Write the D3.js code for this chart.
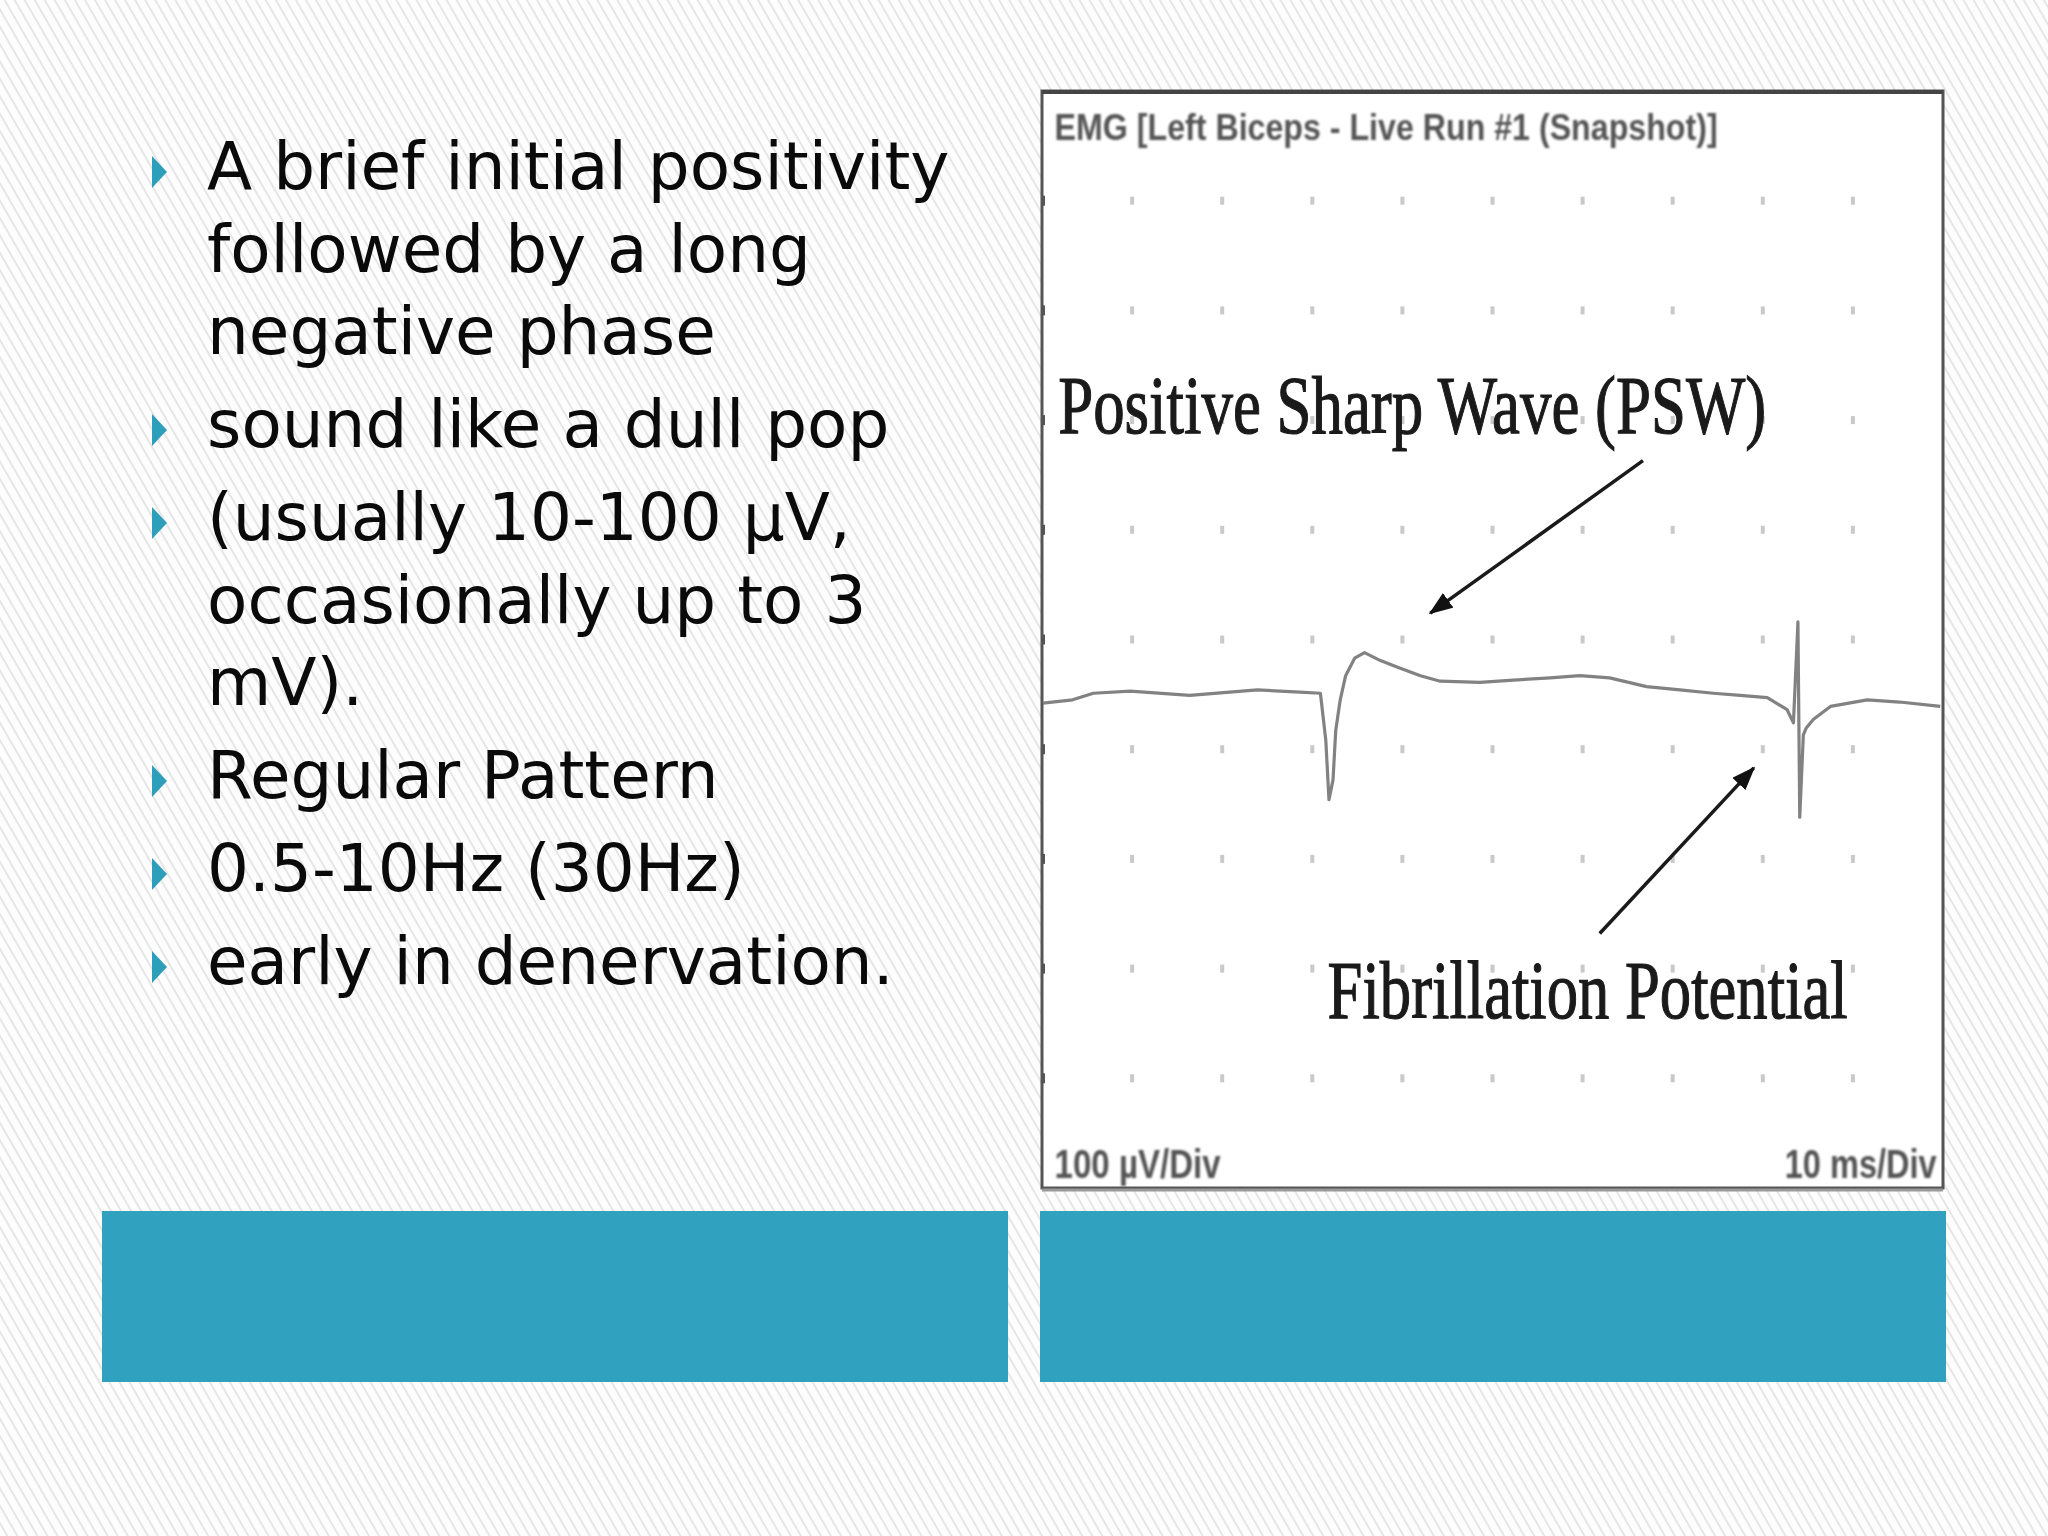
<!DOCTYPE html>
<html>
<head>
<meta charset="utf-8">
<script src="https://cdn.jsdelivr.net/npm/d3@7"></script>
<style>
  body { margin: 0; background: #fdfdfd; }
</style>
</head>
<body>
<script>

// slide text, one array per bullet
const bulletParagraphs = [
  ['A brief initial positivity', 'followed by a long', 'negative phase'],
  ['sound like a dull pop'],
  ['(usually 10-100 µV,', 'occasionally up to 3', 'mV).'],
  ['Regular Pattern'],
  ['0.5-10Hz (30Hz)'],
  ['early in denervation.']
];

// EMG trace (ms, µV)
const traceMs = [0.1, 3.4, 5.7, 9.8, 16.4, 23.9, 28.6, 30.9, 31.5, 31.85, 32.3, 32.6, 33.1, 33.7, 34.7,
  35.8, 37.5, 39.4, 42.0, 44.2, 48.6, 52.3, 56.4, 59.7, 63.0, 67.1, 70.8, 74.5, 77.5, 80.5, 82.7, 83.4,
  83.9, 84.1, 84.5, 84.8, 85.6, 87.5, 91.6, 95.2, 99.7];
const traceUv = [-58, -55, -49, -47, -51, -46, -48, -49, -92, -146, -128, -83, -55, -33, -17,
  -12, -19, -25, -33, -38, -39, -37, -35, -33, -35, -43, -46, -49, -51, -53, -64, -76,
  16, -162, -87, -81, -73, -61, -55, -57, -61];

const timeTicks = d3.range(0, 101, 10);      // 10 ms/Div
const voltTicks = d3.range(-500, 501, 100);  // 100 µV/Div

const chartTitle = 'EMG [Left Biceps - Live Run #1 (Snapshot)]';
const voltLabel = '100 µV/Div';
const timeLabel = '10 ms/Div';

const annotationLabels = ['Positive Sharp Wave (PSW)', 'Fibrillation Potential'];
const annotationLabelAt = [[1.8, 188], [31.7, -345]];          // ms, µV
const annotationArrowFrom = [[66.7, 163], [61.9, -268]];
const annotationArrowTo = [[43.1, 24], [79.0, -117]];

const WIDTH = 2048,
      HEIGHT = 1536;

const FRAME = { left: 1042, top: 91, right: 1943, bottom: 1188 };

const svg = d3.select('body').append('svg')
  .attr('width', WIDTH)
  .attr('height', HEIGHT);

const defs = svg.append('defs');

const hatch = defs.append('pattern')
  .attr('id', 'hatch')
  .attr('patternUnits', 'userSpaceOnUse')
  .attr('width', 8.7)
  .attr('height', 20)
  .attr('patternTransform', 'rotate(-30)');
hatch.append('rect').attr('width', 8.7).attr('height', 20).attr('fill', '#fdfdfd');
hatch.append('line')
  .attr('x1', 4).attr('y1', 0).attr('x2', 4).attr('y2', 20)
  .attr('stroke', '#e1e1e1').attr('stroke-width', 1.6);

defs.append('marker')
  .attr('id', 'arrow')
  .attr('markerUnits', 'userSpaceOnUse')
  .attr('viewBox', '0 -9 24 18')
  .attr('refX', 22).attr('refY', 0)
  .attr('markerWidth', 24).attr('markerHeight', 18)
  .attr('orient', 'auto')
  .append('path')
    .attr('d', 'M0,-9L24,0L0,9Z')
    .attr('fill', '#111');

defs.append('filter').attr('id', 'soft')
  .append('feGaussianBlur').attr('stdDeviation', 0.9);

svg.append('rect')
  .attr('width', WIDTH).attr('height', HEIGHT)
  .attr('fill', 'url(#hatch)');

// bullets
const LINE_H = 82.5, PARA_GAP = 10.5, FIRST_BASE = 189;
let lines = [];
let base = FIRST_BASE;
bulletParagraphs.forEach((para) => {
  para.forEach((txt, i) => {
    lines.push({ text: txt, y: base, first: i === 0 });
    base += LINE_H;
  });
  base += PARA_GAP;
});

const textG = svg.append('g');

textG.selectAll('.bullet')
  .data(lines.filter((d) => d.first))
  .enter().append('path')
    .attr('class', 'bullet')
    .attr('transform', (d) => `translate(152, ${d.y})`)
    .attr('d', 'M0,-33L15,-17L0,-1Z')
    .attr('fill', '#2e9fbb');

textG.selectAll('.line')
  .data(lines)
  .enter().append('text')
    .attr('class', 'line')
    .attr('x', 207)
    .attr('y', (d) => d.y)
    .style('font-family', '"DejaVu Sans", sans-serif')
    .style('font-size', '66px')
    .style('fill', '#0a0a0a')
    .text((d) => d.text);

// footer boxes
svg.selectAll('.box')
  .data([[102, 1008], [1040, 1946]])
  .enter().append('rect')
    .attr('class', 'box')
    .attr('x', (d) => d[0])
    .attr('y', 1211)
    .attr('width', (d) => d[1] - d[0])
    .attr('height', 171)
    .attr('fill', '#30a2c0');

// EMG snapshot
const x = d3.scaleLinear().domain([0, 100]).range([FRAME.left, FRAME.right]);
const y = d3.scaleLinear().domain([-500, 500]).range([FRAME.bottom, FRAME.top]);

const chart = svg.append('g');

chart.append('rect')
  .attr('x', FRAME.left).attr('y', FRAME.top)
  .attr('width', FRAME.right - FRAME.left)
  .attr('height', FRAME.bottom - FRAME.top)
  .attr('fill', '#fff');

const innerT = timeTicks.slice(1, -1),
      innerV = voltTicks.slice(1, -1);

chart.selectAll('.dot')
  .data(d3.cross(innerT, innerV))
  .enter().append('rect')
    .attr('class', 'dot')
    .attr('x', (d) => x(d[0]) - 2)
    .attr('y', (d) => y(d[1]) - 4)
    .attr('width', 4).attr('height', 8)
    .attr('fill', '#c9c9c9');

chart.selectAll('.edge-tick')
  .data(innerV)
  .enter().append('rect')
    .attr('class', 'edge-tick')
    .attr('x', FRAME.left - 1)
    .attr('y', (d) => y(d) - 5)
    .attr('width', 4).attr('height', 10)
    .attr('fill', '#555');

chart.append('rect')
  .attr('x', FRAME.left).attr('y', FRAME.top)
  .attr('width', FRAME.right - FRAME.left)
  .attr('height', FRAME.bottom - FRAME.top)
  .attr('fill', 'none')
  .attr('stroke', '#555')
  .attr('stroke-width', 3);

chart.append('line')
  .attr('x1', FRAME.left).attr('x2', FRAME.right)
  .attr('y1', FRAME.top + 1).attr('y2', FRAME.top + 1)
  .attr('stroke', '#444').attr('stroke-width', 4);

chart.append('line')
  .attr('x1', FRAME.left).attr('x2', FRAME.right)
  .attr('y1', FRAME.bottom + 2).attr('y2', FRAME.bottom + 2)
  .attr('stroke', '#9a9a9a').attr('stroke-width', 3);

const line = d3.line()
  .x((d) => x(d[0]))
  .y((d) => y(d[1]));

chart.append('path')
  .datum(d3.zip(traceMs, traceUv))
  .attr('d', line)
  .attr('fill', 'none')
  .attr('stroke', '#828282')
  .attr('stroke-width', 3.2)
  .attr('stroke-linejoin', 'round');

// small grey captions
chart.append('text')
  .attr('x', x(1.4)).attr('y', y(455))
  .attr('textLength', 663).attr('lengthAdjust', 'spacingAndGlyphs')
  .attr('filter', 'url(#soft)')
  .style('font-family', '"Liberation Sans", Arial, sans-serif')
  .style('font-size', '37px')
  .style('font-weight', 'bold')
  .style('fill', '#555')
  .text(chartTitle);

chart.append('text')
  .attr('x', x(1.4)).attr('y', y(-491))
  .attr('textLength', 166).attr('lengthAdjust', 'spacingAndGlyphs')
  .attr('filter', 'url(#soft)')
  .style('font-family', '"Liberation Sans", Arial, sans-serif')
  .style('font-size', '40px')
  .style('font-weight', 'bold')
  .style('fill', '#555')
  .text(voltLabel);

chart.append('text')
  .attr('x', x(99.3)).attr('y', y(-491))
  .attr('text-anchor', 'end')
  .attr('textLength', 152).attr('lengthAdjust', 'spacingAndGlyphs')
  .attr('filter', 'url(#soft)')
  .style('font-family', '"Liberation Sans", Arial, sans-serif')
  .style('font-size', '40px')
  .style('font-weight', 'bold')
  .style('fill', '#555')
  .text(timeLabel);

// annotations
const labelWidths = [708, 520];

chart.selectAll('.arrow')
  .data(annotationArrowFrom)
  .enter().append('line')
    .attr('class', 'arrow')
    .attr('x1', (d) => x(d[0])).attr('y1', (d) => y(d[1]))
    .attr('x2', (d, i) => x(annotationArrowTo[i][0]))
    .attr('y2', (d, i) => y(annotationArrowTo[i][1]))
    .attr('stroke', '#1a1a1a')
    .attr('stroke-width', 3.5)
    .attr('marker-end', 'url(#arrow)');

chart.selectAll('.note')
  .data(annotationLabels)
  .enter().append('text')
    .attr('class', 'note')
    .attr('x', (d, i) => x(annotationLabelAt[i][0]))
    .attr('y', (d, i) => y(annotationLabelAt[i][1]))
    .attr('textLength', (d, i) => labelWidths[i])
    .attr('lengthAdjust', 'spacingAndGlyphs')
    .style('font-family', '"Liberation Serif", "Times New Roman", serif')
    .style('font-size', '82px')
    .style('fill', '#1a1a1a')
    .style('stroke', '#1a1a1a')
    .style('stroke-width', 1.2)
    .text((d) => d);

</script>
</body>
</html>
